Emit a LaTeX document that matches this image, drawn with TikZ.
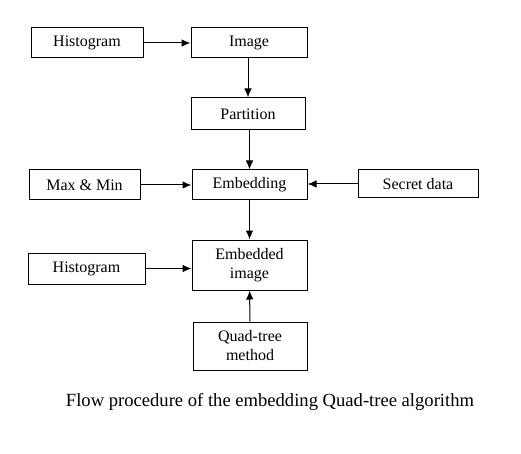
\documentclass[tikz,border=0pt]{standalone}
\usepackage{fontspec}
\setmainfont{Liberation Serif}
\usetikzlibrary{arrows,arrows.meta}
\tikzset{
    stepbox/.style={draw, line width=1pt, inner sep=0pt, align=center,
        font=\fontsize{16}{19}\selectfont},
    flow/.style={line width=1pt, -{Latex[length=9pt,width=7.5pt]}},
}

\begin{document}
\begin{tikzpicture}[x=1pt,y=-1pt]

            \useasboundingbox (0,0) rectangle (521,454);

            \node[stepbox, minimum width=112pt, minimum height=30pt] (hist1) at (87,43) {Histogram};
            \node[stepbox, minimum width=116pt, minimum height=30pt] (image) at (249,43) {Image};
            \node[stepbox, minimum width=114pt, minimum height=32pt] (part) at (248,114) {Partition};
            \node[stepbox, minimum width=111pt, minimum height=30pt] (maxmin) at (84.5,185) {Max \& Min};
            \node[stepbox, minimum width=115pt, minimum height=30pt] (embed) at (249.5,185) {Embedding};
            \node[stepbox, minimum width=120pt, minimum height=28pt] (secret) at (418,184) {Secret data};
            \node[stepbox, minimum width=117pt, minimum height=31pt] (hist2) at (86.5,268.5) {Histogram};
            \node[stepbox, minimum width=115pt, minimum height=50pt] (embimg) at (249.5,265) {Embedded\\image};
            \node[stepbox, minimum width=114pt, minimum height=48pt] (quad) at (250,346) {Quad-tree\\method};

            \begin{scope}[flow]
                \draw (hist1) -- (image);
                \draw (image.south -| part) -- (part);
                \draw (part.south -| embed) -- (embed);
                \draw (maxmin) -- (maxmin -| embed.west);
                \draw (secret) -- (secret -| embed.east);
                \draw (embed) -- (embimg);
                \draw (hist2) -- (hist2 -| embimg.west);
                \draw (quad) -- (embimg);
            \end{scope}
            \node[font=\fontsize{18.6}{22}\selectfont] (caption) at (270,402) {Flow procedure of the embedding Quad-tree algorithm};
        \end{tikzpicture}
\end{document}
